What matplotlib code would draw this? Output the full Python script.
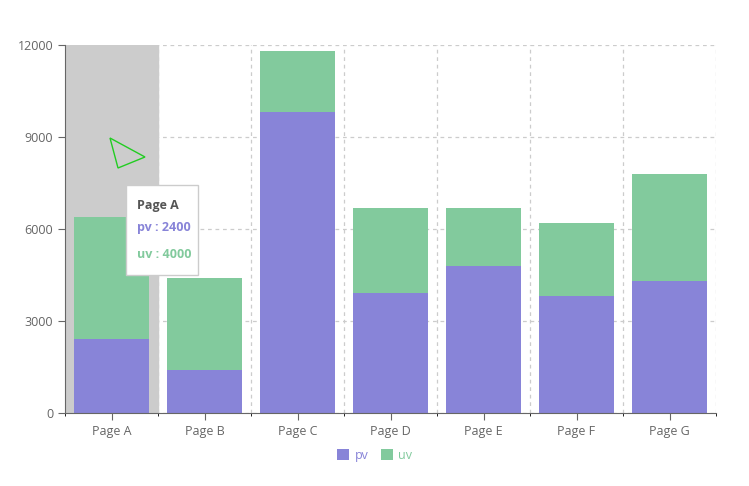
import matplotlib.pyplot as plt
import numpy as np
from matplotlib.patches import Rectangle, Polygon

pages = ['Page A', 'Page B', 'Page C', 'Page D', 'Page E', 'Page F', 'Page G']
pv = [2400, 1398, 9800, 3908, 4800, 3800, 4300]
uv = [4000, 3000, 2000, 2780, 1890, 2390, 3490]
yticks = [0, 3000, 6000, 9000, 12000]

plt.rcParams['font.family'] = 'Open Sans'
W, H = 749, 486
fig = plt.figure(figsize=(W / 100, H / 100), dpi=100)
ax = fig.add_axes([65 / W, 1 - 413 / H, (716 - 65) / W, (413 - 45) / H])

x = np.arange(len(pages))
ax.set_xlim(-0.5, len(pages) - 0.5)
ax.set_ylim(0, 12000)

# hover cursor on first category
ax.add_patch(Rectangle((-0.5, 0), 1, 12000, color='#cccccc', zorder=0))
ax.grid(True, color='#cccccc', linestyle=(0, (3, 3)), linewidth=0.9, zorder=0.5)
ax.set_xticks(np.arange(-0.5, len(pages)), minor=True)
ax.xaxis.grid(False)
ax.xaxis.grid(True, which='minor', color='#cccccc', linestyle=(0, (3, 3)), linewidth=0.9)

ax.bar(x, pv, width=0.8, color='#8884d8', label='pv', zorder=2)
ax.bar(x, uv, width=0.8, bottom=pv, color='#82ca9d', label='uv', zorder=2)

ax.set_xticks(x)
ax.set_xticklabels(pages)
ax.set_yticks(yticks)
ax.set_yticklabels([str(t) for t in yticks])
ax.tick_params(colors='#666666', labelsize=9, length=5)
for s in ['top', 'right']:
    ax.spines[s].set_visible(False)
for s in ['left', 'bottom']:
    ax.spines[s].set_color('#666666')

# tooltip
tx0, ty0 = 126 / W, 1 - 275 / H
fig.patches.append(Rectangle((tx0, ty0), 72 / W, 90 / H, transform=fig.transFigure,
                             facecolor='white', edgecolor='#cccccc', zorder=5))
fig.text(137 / W, 1 - 205 / H, 'Page A', color='#555555', fontsize=9, fontweight='bold', va='center', zorder=6)
fig.text(137 / W, 1 - 228 / H, 'pv : %d' % pv[0], color='#8884d8', fontsize=9, fontweight='bold', va='center', zorder=6)
fig.text(137 / W, 1 - 254 / H, 'uv : %d' % uv[0], color='#82ca9d', fontsize=9, fontweight='bold', va='center', zorder=6)

# green cursor shape
fig.patches.append(Polygon([(110 / W, 1 - 138 / H), (145 / W, 1 - 157 / H), (118 / W, 1 - 168 / H)],
                           closed=True, transform=fig.transFigure, fill=False, edgecolor='#22cc22', lw=1, zorder=6))

leg = fig.legend(loc='center', bbox_to_anchor=(0.5, 1 - 455 / H), ncol=2, frameon=False,
                 fontsize=9, handlelength=1, handleheight=1, columnspacing=1, handletextpad=0.4)
for t, c in zip(leg.get_texts(), ['#8884d8', '#82ca9d']):
    t.set_color(c)

fig.savefig('out.png', dpi=100)
